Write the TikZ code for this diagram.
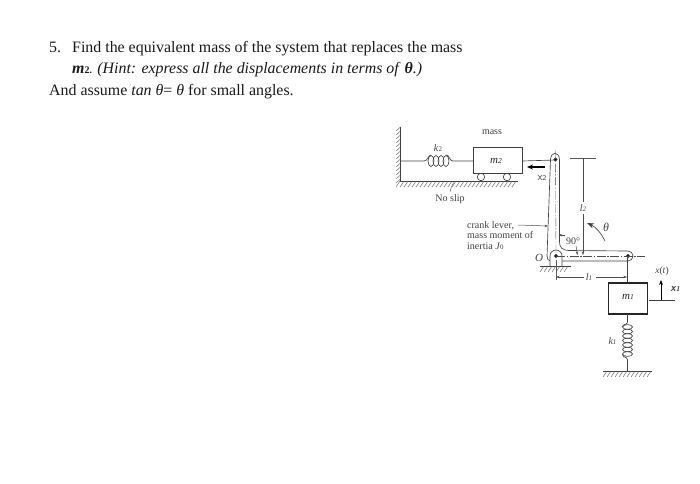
\documentclass[tikz,border=0pt]{standalone}
\usepackage{fontspec}
\setmainfont{Liberation Serif}
\usetikzlibrary{arrows.meta}
\def\hatchrow(#1,#2:#3:#4){\foreach \hx in {#1,#2,...,#3} \draw[hatchline] (\hx, #4) -- ++(-4, 6);}
\tikzset{
	hatchline/.style={line width=0.4pt, color=black!65},
	part/.style={line width=0.65pt, color=black!75},
	heavy/.style={line width=1.3pt, color=black!85},
	dimline/.style={line width=0.5pt, color=black!70, -{Stealth[length=3.5pt,width=2.5pt]}},
	centerline/.style={line width=0.35pt, color=black!70, dash pattern=on 9pt off 1.5pt on 1.5pt off 1.5pt},
	task/.style={anchor=base west, inner sep=0pt, font=\fontsize{15.9}{18}\selectfont, color=black!90},
	small/.style={inner sep=0pt, font=\fontsize{10}{10.5}\selectfont, color=black!75},
	massname/.style={inner sep=0pt, font=\fontsize{11}{12}\selectfont\itshape, color=black!85}
}
\begin{document}
\begin{tikzpicture}[x=1pt, y=-1pt]
		%%%%% START %%%%%
		\useasboundingbox (0, 0) rectangle (700, 483);
		
		% question text
		\node[task] (number) at (49, 52) {5.};
		\node[task] (lineone) at (72, 52) {Find the equivalent mass of the system that replaces the mass};
		\node[task] (linetwo) at (72, 73.5) {\textbf{\textit{m}\fontsize{10}{11}\selectfont 2.} \textit{(Hint: express all the displacements in terms of} \textbf{\textit{θ}}\textit{.)}};
		\node[task] (linethree) at (49, 95) {And assume \textit{tan θ}= \textit{θ} for small angles.};
		
		% wall and floor of mass m2
		\draw[part] (400.5, 127) -- (400.5, 181) -- (518, 181);
		\foreach \hy in {127,131,...,179} \draw[hatchline] (400.5, \hy) -- ++(-4.5, 4);
		\hatchrow(400,404:518:181)
		
		% spring k2
		\draw[part] (400.5, 161) -- (424, 161) .. controls (428, 161) and (428, 155) .. (431, 155);
		\foreach \cx in {431,436,441,446} \draw[part] (\cx, 161) ellipse (3 and 5.5);
		\draw[part] (446, 155) .. controls (450, 155) and (449, 161) .. (453, 161) -- (473, 161);
		
		% mass m2
		\draw[part, fill=white] (473, 147) rectangle (522, 173);
		\draw[part] (481, 177) circle (3.7);
		\draw[part] (507, 177) circle (3.7);
		\draw[part] (522, 161) -- (555, 160);
		\node[massname] (mtwo) at (496, 161) {m\fontsize{7.5}{8}\selectfont 2};
		\node[small] (masslabel) at (492, 132) {mass};
		\node[small] (ktwo) at (438, 148) {\textit{k}\fontsize{7}{7}\selectfont 2};
		\node[small] (noslip) at (450, 199) {No slip};
		\draw[hatchline] (455, 181) .. controls (452, 185) and (451, 187) .. (450, 192);
		\draw[line width=1.1pt, -{Stealth[length=6pt,width=5pt]}] (545, 167) -- (527, 167);
		\node[small, font=\fontsize{11}{11}\selectfont\sffamily] (xtwo) at (542, 178) {x\fontsize{7.5}{7}\selectfont 2};
		
		% crank lever
		\draw[part] (550.5, 160) .. controls (550.5, 151) and (559.5, 151) .. (559.5, 160)
			-- (559.5, 241) .. controls (559.5, 248) and (562, 250) .. (569, 250.5)
			-- (628, 251) arc (-90:90:5) -- (561, 261);
		\draw[part] (550.5, 160) -- (547, 256) .. controls (547, 259) and (548, 261) .. (551, 261);
		\draw[part, fill=white] (550, 266) -- (550, 256) arc (180:360:6) -- (562, 266);
		\draw[part, fill=black] (555.5, 159.5) circle (1.7);
		\draw[part, fill=black] (556, 256) circle (1.7);
		\draw[part, fill=black] (628, 256) circle (1.7);
		\draw[centerline] (555.5, 150) -- (556, 256);
		\draw[centerline] (556, 256) -- (645, 256);
		\draw[part] (540, 266) -- (571, 266);
		\hatchrow(544,548:570:266)
		\node[small, font=\fontsize{11}{12}\selectfont\itshape] (pivotname) at (539, 258) {O};
		
		% lever labels
		\node[small, anchor=west, align=left] (cranktext) at (467, 235.5) {crank lever,\\mass moment of\\inertia \textit{J}\fontsize{7}{7}\selectfont 0};
		\draw[dimline] (518, 225) -- (548, 226);
		
		% dimension l2 and angle
		\draw[hatchline] (570, 158) -- (596, 158);
		\draw[line width=0.5pt, color=black!70] (583, 158) -- (583, 202);
		\draw[dimline] (583, 214) -- (583, 255);
		\node[small, font=\fontsize{10}{10}\selectfont\itshape] (ltwo) at (583, 208) {l\fontsize{7}{7}\selectfont 2};
		\draw[dimline] (565, 235) -- (558.5, 235);
		\node[small] (rightangle) at (573, 241) {90°};
		\draw[dimline] (576, 246) -- (577.5, 255);
		\draw[part, -{Stealth[length=7pt,width=5pt]}] (605, 241) .. controls (601, 233) and (596, 227) .. (587, 223);
		\node[small, font=\fontsize{12}{12}\selectfont\itshape] (thetaname) at (606, 227) {θ};
		
		% dimension l1
		\draw[hatchline] (556, 260) -- (556, 280);
		\draw[dimline, {Stealth[length=3.5pt,width=2.5pt]}-] (556, 277) -- (584, 277);
		\draw[dimline] (596, 277) -- (627, 277);
		\node[small, font=\fontsize{10}{10}\selectfont\itshape] (lone) at (589, 277) {l\fontsize{7}{7}\selectfont 1};
		
		% mass m1
		\draw[part] (627.5, 256) -- (627.5, 283);
		\draw[heavy, fill=white] (608.5, 283) rectangle (647.5, 314);
		\node[massname] (mone) at (628, 297) {m\fontsize{7.5}{8}\selectfont 1};
		\draw[part] (649, 300) -- (675, 300);
		\draw[line width=1pt, -{Stealth[length=5pt,width=4pt]}] (661, 300) -- (661, 280);
		\node[small, font=\fontsize{9.5}{10}\selectfont] (xt) at (662, 271) {\textit{x}(\textit{t})};
		\node[small, font=\fontsize{11}{11}\selectfont\sffamily\bfseries\itshape] (xone) at (675, 289) {x\fontsize{7}{7}\selectfont 1};
		
		% spring k1
		\draw[part] (627.5, 314) -- (627.5, 322) .. controls (627.5, 325) and (622, 324) .. (622.5, 327);
		\foreach \cy in {327,331.5,...,354} \draw[part] (627.5, \cy) ellipse (5 and 2.4);
		\draw[part] (622.5, 354) .. controls (622, 358) and (627.5, 356) .. (627.5, 360) -- (627.5, 371);
		\node[small, font=\fontsize{10}{10}\selectfont\itshape] (kone) at (612.5, 341) {k\fontsize{7}{7}\selectfont 1};
		
		% floor of spring k1
		\draw[part] (603, 371) -- (652, 371);
		\hatchrow(607,611:652:371)
		
		%%%%% END %%%%%
	\end{tikzpicture}
\end{document}
